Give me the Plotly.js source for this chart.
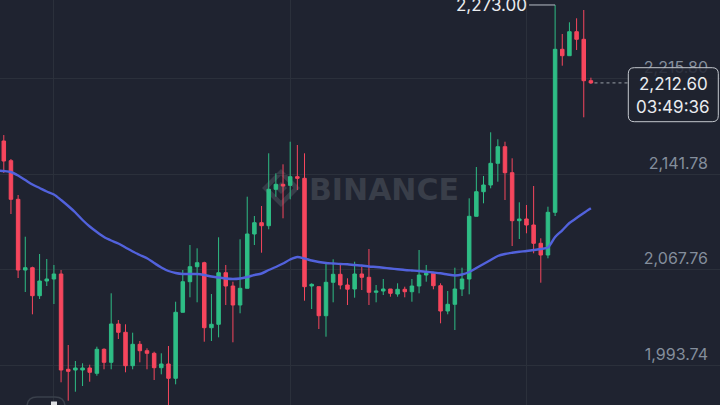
<!DOCTYPE html>
<html><head><meta charset="utf-8">
<script src="https://cdn.plot.ly/plotly-3.0.1.min.js"></script>
<style>html,body{margin:0;padding:0;background:#1f2330;overflow:hidden}#chart{width:720px;height:405px}</style>
</head><body><div id="chart"></div>
<script>
// ---- data ----
const candleIndex = [1,2,3,4,5,6,7,8,9,10,11,12,13,14,15,16,17,18,19,20,21,22,23,24,25,26,27,28,29,30,31,32,33,34,35,36,37,38,39,40,41,42,43,44,45,46,47,48,49,50,51,52,53,54,55,56,57,58,59,60,61,62,63,64,65,66,67,68,69,70,71,72,73,74,75,76,77,78,79,80,81,82,83];
const openPrices = [2167.59,2152.32,2122.40,2067.61,2069.39,2047.69,2059.08,2060.63,2064.51,1990.65,1990.11,1990.11,1991.66,1987.55,2006.15,1996.07,2025.76,2019.33,1993.44,2010.03,2005.06,2003.05,1991.89,1994.76,1983.68,2034.83,2058.54,2070.17,2073.27,2022.89,2025.53,2065.51,2055.21,2040.49,2053.43,2095.51,2104.27,2101.94,2130.15,2134.03,2133.20,2139.92,2138.68,2055.21,2054.67,2032.19,2058.07,2064.27,2055.98,2052.89,2064.51,2061.95,2050.33,2051.34,2052.89,2049.01,2052.65,2050.79,2055.21,2063.74,2065.05,2055.44,2035.84,2041.03,2052.89,2060.63,2109.23,2128.29,2133.49,2150.30,2163.17,2143.02,2105.82,2107.14,2102.49,2088.30,2079.24,2112.33,2238.65,2233.69,2252.29,2246.40,2214.32];
const highPrices = [2172.20,2153.64,2125.74,2093.41,2070.17,2080.01,2076.14,2071.51,2067.61,2009.48,1997.08,1995.30,1994.22,2008.17,2006.92,2049.55,2028.86,2025.53,2019.02,2012.59,2006.92,2004.29,2003.05,2008.71,2043.04,2067.61,2086.98,2084.42,2074.04,2049.01,2092.95,2071.51,2058.54,2091.40,2124.42,2109.46,2117.21,2158.05,2142.55,2149.53,2167.04,2164.49,2158.05,2057.30,2054.67,2073.81,2075.90,2071.51,2061.17,2074.04,2070.17,2083.89,2055.98,2060.63,2052.89,2057.30,2054.67,2060.63,2083.11,2071.51,2065.05,2057.30,2051.34,2069.39,2069.39,2123.18,2147.43,2140.46,2174.33,2168.90,2167.04,2154.18,2120.08,2117.98,2132.71,2092.17,2116.67,2273.00,2250.51,2259.58,2262.68,2269.11,2216.64];
const lowPrices = [2142.79,2111.01,2061.41,2050.56,2033.27,2045.14,2055.21,2041.26,1980.58,1966.32,1973.29,1977.71,1981.04,1985.69,1990.65,1990.65,2014.14,1988.33,1990.65,1996.07,1990.65,1982.36,1986.77,1958.00,1979.03,2034.83,2046.45,2042.58,2012.04,2012.59,2015.44,2040.49,2011.58,2034.05,2053.43,2086.98,2081.02,2099.15,2124.42,2107.68,2122.40,2129.61,2043.82,2037.39,2021.89,2015.93,2042.58,2052.65,2040.49,2046.14,2052.11,2040.49,2042.58,2048.24,2046.92,2046.92,2046.45,2043.04,2049.55,2058.54,2052.65,2026.30,2033.27,2021.11,2047.46,2048.78,2109.23,2119.30,2130.93,2136.04,2121.86,2086.21,2091.64,2096.05,2080.56,2057.77,2076.68,2109.46,2225.94,2233.69,2238.11,2185.95,2211.76];
const closePrices = [2152.09,2122.40,2067.61,2069.39,2047.69,2059.08,2060.63,2064.51,1990.11,1989.10,1991.66,1991.66,1988.33,2006.15,1996.07,2025.76,2019.33,1993.44,2010.03,2005.06,2003.05,1991.89,1994.76,1983.68,2034.83,2058.54,2070.17,2073.27,2022.89,2025.53,2065.51,2055.21,2040.49,2053.43,2095.51,2104.27,2101.94,2130.15,2134.03,2132.71,2139.92,2138.68,2054.67,2056.53,2032.19,2058.07,2064.27,2055.98,2052.73,2064.51,2061.95,2050.33,2051.34,2052.89,2049.55,2052.65,2050.79,2055.21,2063.74,2065.05,2055.44,2035.84,2041.03,2052.89,2060.63,2109.23,2128.29,2133.49,2150.30,2163.17,2143.02,2105.82,2107.14,2102.49,2088.30,2079.24,2112.33,2238.65,2233.69,2252.29,2246.40,2214.32,2212.60];
const maIndex = [0,1,2,3,4,5,6,7,8,9,10,11,12,13,14,15,16,17,18,19,20,21,22,23,24,25,26,27,28,29,30,31,32,33,34,35,36,37,38,39,40,41,42,43,44,45,46,47,48,49,50,51,52,53,54,55,56,57,58,59,60,61,62,63,64,65,66,67,68,69,70,71,72,73,74,75,76,77,78,79,80,81,82,83];
const maValues = [2144.72,2144.34,2143.56,2140.85,2137.36,2133.87,2131.16,2128.45,2126.12,2121.86,2117.21,2112.17,2106.36,2101.32,2097.06,2093.19,2090.47,2088.15,2085.04,2081.95,2079.24,2076.67,2073.04,2069.55,2066.84,2065.29,2064.51,2064.51,2064.51,2063.74,2062.57,2061.80,2061.02,2060.63,2061.02,2062.19,2063.74,2064.90,2067.61,2069.94,2072.65,2075.75,2077.68,2076.52,2074.97,2073.81,2073.04,2072.65,2072.26,2072.03,2071.49,2071.10,2070.33,2069.94,2069.40,2068.77,2068.23,2067.61,2067.22,2066.84,2066.22,2065.67,2065.05,2064.12,2063.35,2064.12,2066.06,2069.16,2072.26,2075.36,2078.46,2080.01,2080.94,2081.71,2082.34,2083.11,2083.89,2085.04,2093.19,2098.36,2104.04,2107.91,2111.79,2115.42];
const priceTicks = [1993.74, 2067.76, 2141.78, 2215.80];
const timeGridIndex = [8, 41, 74];
const highValue = 2273.00, highIndex = 78, highLabel = '2,273.00';
const lastPrice = 2212.60, lastPriceLabel = '2,212.60', countdownLabel = '03:49:36';
const watermarkText = 'BINANCE';

// ---- styling ----
const BG = '#1f2330', GRID = '#2b303b', GREEN = '#2ebd85', RED = '#f6465d', MA = '#5262dc';
const FONT = 'Inter, "Noto Sans", sans-serif';
const W = 720, H = 405;
const X = px => px / W, Y = px => 1 - px / H;
function rrect(x0, y0, x1, y1, r) {
  return `M${X(x0+r)},${Y(y0)} L${X(x1-r)},${Y(y0)} Q${X(x1)},${Y(y0)} ${X(x1)},${Y(y0+r)} ` +
         `L${X(x1)},${Y(y1-r)} Q${X(x1)},${Y(y1)} ${X(x1-r)},${Y(y1)} L${X(x0+r)},${Y(y1)} ` +
         `Q${X(x0)},${Y(y1)} ${X(x0)},${Y(y1-r)} L${X(x0)},${Y(y0+r)} Q${X(x0)},${Y(y0)} ${X(x0+r)},${Y(y0)} Z`;
}
function diamond(cx, cy, h) {
  return `M${X(cx)},${Y(cy-h)} L${X(cx+h)},${Y(cy)} L${X(cx)},${Y(cy+h)} L${X(cx-h)},${Y(cy)} Z`;
}

const traces = [
  {
    type: 'candlestick', x: candleIndex, open: openPrices, high: highPrices, low: lowPrices, close: closePrices,
    increasing: {line: {color: GREEN, width: 1}, fillcolor: GREEN},
    decreasing: {line: {color: RED, width: 1}, fillcolor: RED},
    whiskerwidth: 0, hoverinfo: 'skip', showlegend: false
  },
  {
    type: 'scatter', mode: 'lines', x: maIndex, y: maValues,
    line: {color: MA, width: 2.4, shape: 'spline', smoothing: 0.8}, hoverinfo: 'skip', showlegend: false
  }
];

const layout = {
  width: W, height: H,
  margin: {l: 0, r: 0, t: 0, b: 0, pad: 0},
  paper_bgcolor: BG, plot_bgcolor: 'rgba(0,0,0,0)',
  showlegend: false,
  boxgap: 0.3,
  xaxis: {
    range: [0.47, 101.03], rangeslider: {visible: false}, showticklabels: false,
    tickmode: 'array', tickvals: timeGridIndex, showgrid: true, gridcolor: GRID, gridwidth: 1,
    zeroline: false, showline: false, ticks: '', fixedrange: true
  },
  yaxis: {
    range: [1962.99, 2276.86], side: 'right', tickmode: 'array', tickvals: priceTicks,
    tickformat: ',.2f', ticklabelposition: 'inside top', ticklabelstandoff: 9,
    tickfont: {family: FONT, size: 16, color: '#848e9c'},
    showgrid: true, gridcolor: GRID, gridwidth: 1, zeroline: false, showline: false, ticks: '', fixedrange: true
  },
  shapes: [
    // watermark
    {type: 'path', xref: 'paper', yref: 'paper', layer: 'below', path: diamond(281, 188, 19) + ' ' + diamond(281, 188, 12.5),
     fillcolor: '#373c48', line: {width: 0}, fillrule: 'evenodd'},
    {type: 'path', xref: 'paper', yref: 'paper', layer: 'below', path: diamond(281, 188, 6),
     fillcolor: '#373c48', line: {width: 0}},
    {type: 'rect', xref: 'paper', yref: 'paper', layer: 'below', x0: X(300), x1: X(468), y0: Y(205), y1: Y(170),
     line: {width: 0}, fillcolor: 'rgba(0,0,0,0)',
     label: {text: watermarkText, textposition: 'middle center', font: {family: '"DejaVu Sans", sans-serif', size: 30, weight: 700, color: '#393e49'}}},
    // high marker connector
    {type: 'line', xref: 'x', yref: 'y', xsizemode: 'pixel', xanchor: highIndex, x0: -26, x1: 0, y0: highValue, y1: highValue,
     line: {color: '#b7bdc6', width: 1}},
    // last price dashed line
    {type: 'line', xref: 'x', yref: 'y', x0: 83.5, x1: 88.2, y0: lastPrice, y1: lastPrice,
     line: {color: '#9aa0a8', width: 1, dash: '3px,3px'}},
    // price box
    {type: 'path', xref: 'paper', yref: 'paper', layer: 'above', path: rrect(628.3, 67.7, 718.3, 121.7, 6),
     fillcolor: 'rgba(31,35,48,0.86)', line: {color: '#c3c7cd', width: 1}},
    // bottom-left button
    {type: 'path', xref: 'paper', yref: 'paper', layer: 'above', path: rrect(27, 397, 65, 425, 10),
     fillcolor: 'rgba(0,0,0,0)', line: {color: '#3a404b', width: 1.5}},
    {type: 'rect', xref: 'paper', yref: 'paper', layer: 'above', x0: X(51), x1: X(57), y0: Y(405), y1: Y(401.5),
     fillcolor: '#dfe1e4', line: {width: 0}}
  ],
  annotations: [
    {xref: 'x', yref: 'y', x: highIndex, y: highValue, text: highLabel, showarrow: false,
     xanchor: 'right', yanchor: 'middle', xshift: -26, font: {family: FONT, size: 17, color: '#eaecef'}},
    {xref: 'paper', yref: 'y', x: X(673.3), y: lastPrice, text: lastPriceLabel, showarrow: false,
     xanchor: 'center', yanchor: 'middle', yshift: -1, font: {family: FONT, size: 17, color: '#eaecef'}},
    {xref: 'paper', yref: 'y', x: X(673.3), y: lastPrice, text: countdownLabel, showarrow: false,
     xanchor: 'center', yanchor: 'middle', yshift: -24.5, font: {family: FONT, size: 17, color: '#eaecef'}}
  ]
};

Plotly.newPlot('chart', traces, layout, {staticPlot: true, displayModeBar: false});
</script>
</body></html>
